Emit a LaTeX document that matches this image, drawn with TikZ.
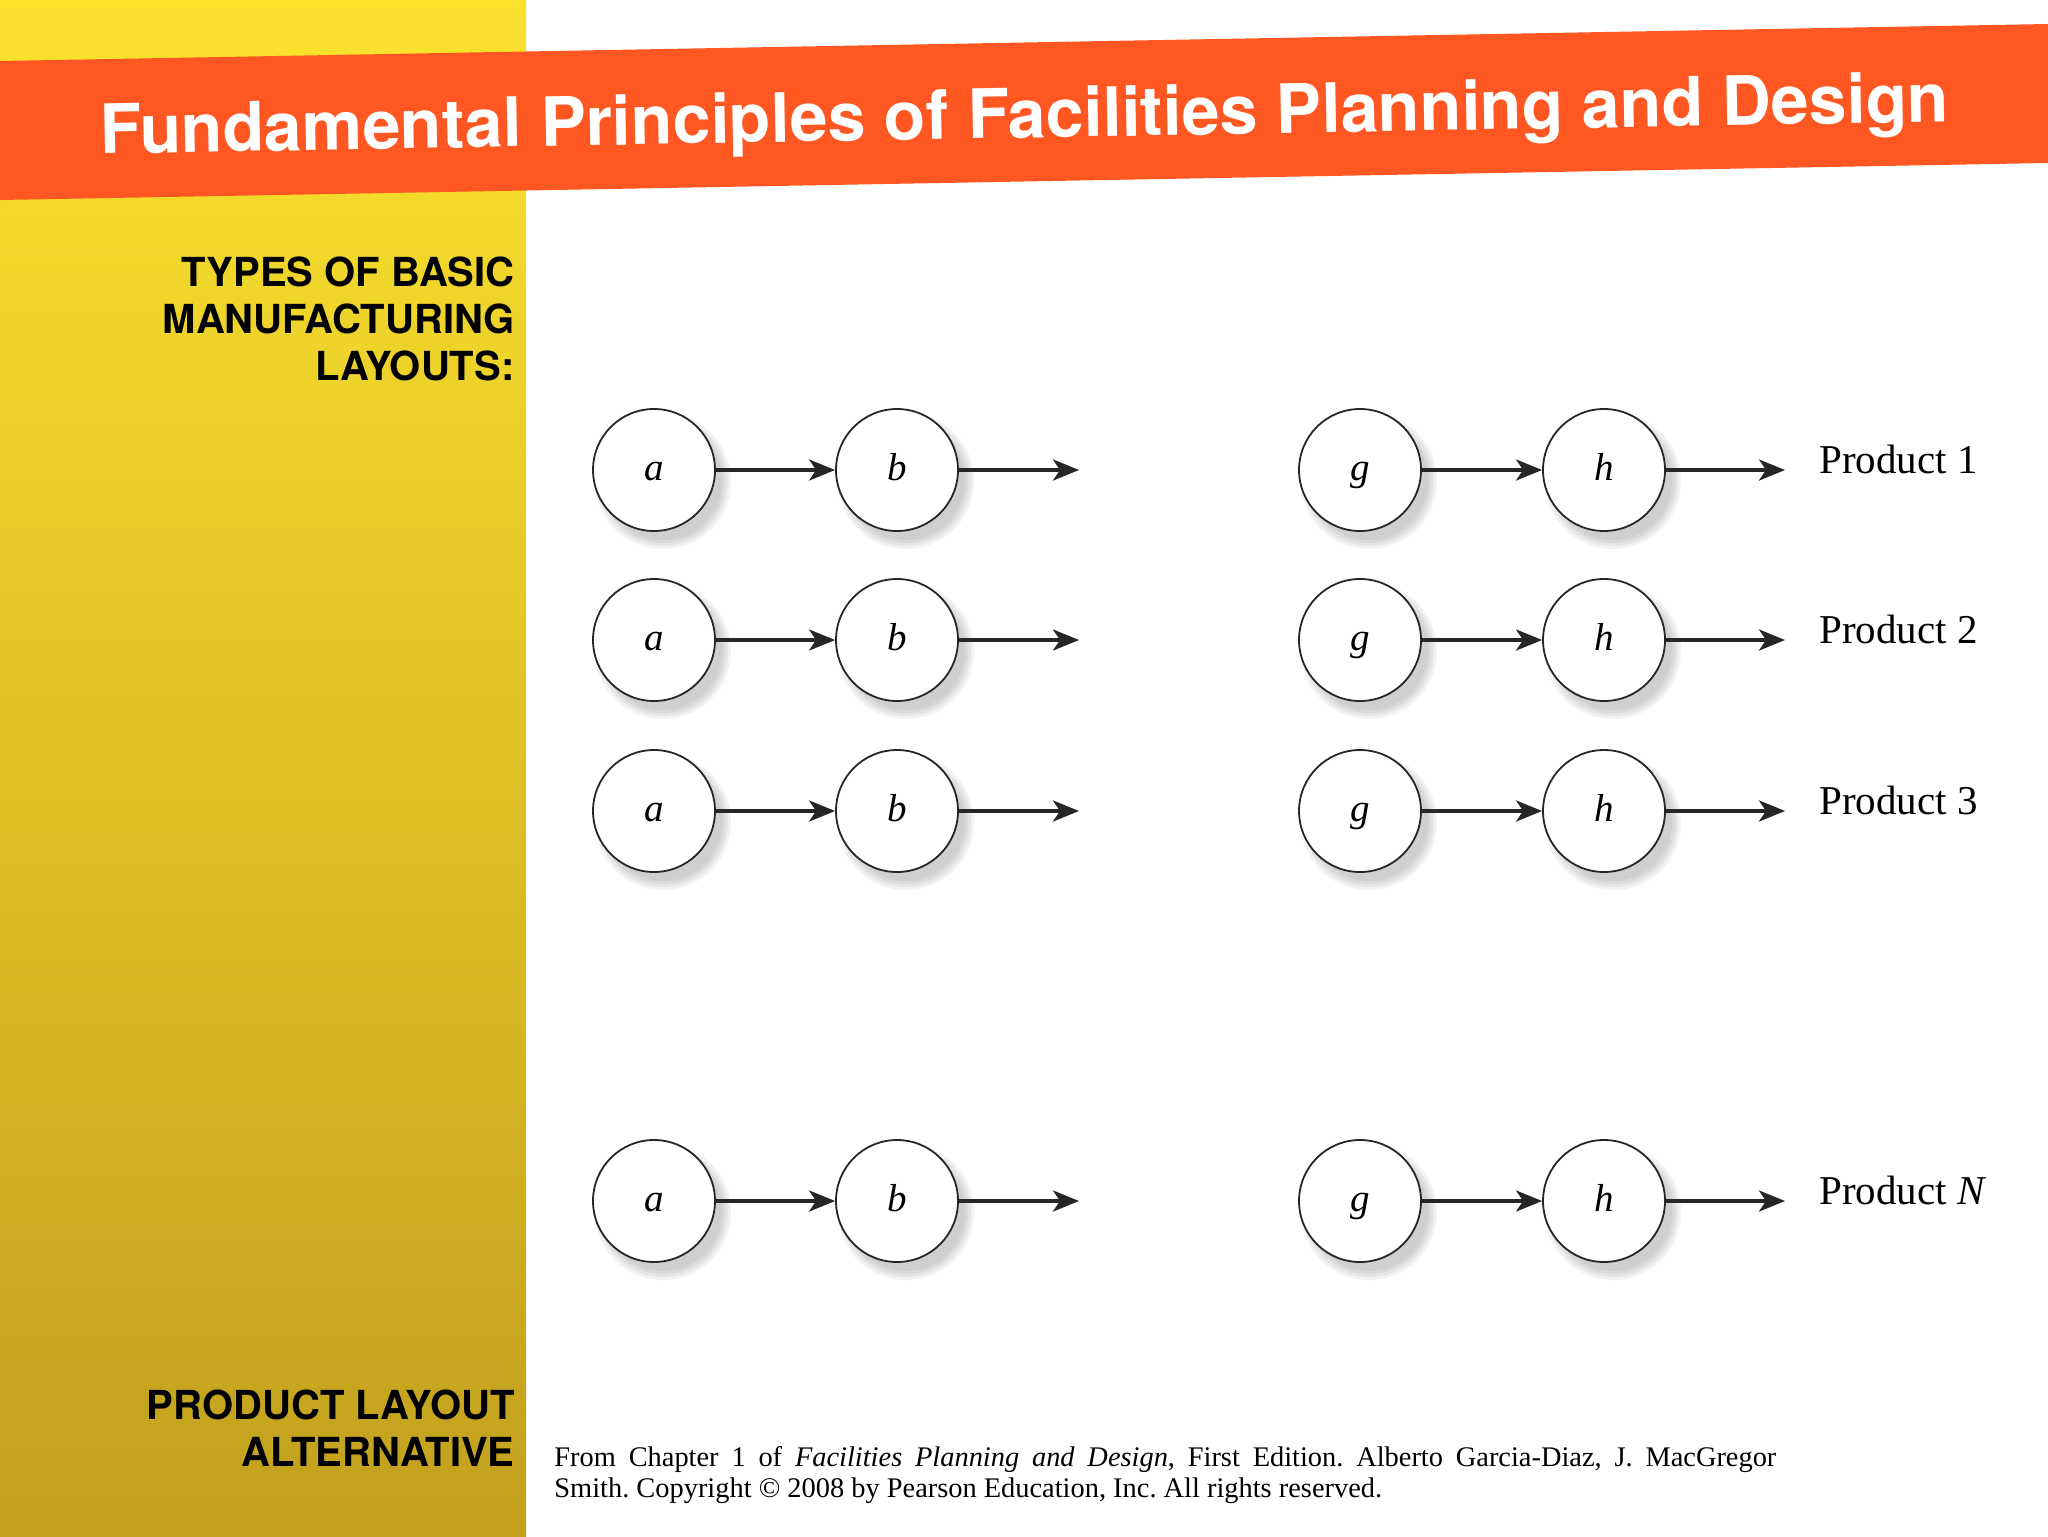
\documentclass[tikz,border=0pt]{standalone}
\usepackage{fontspec}
\setmainfont{Liberation Serif}
\newfontfamily\heros{TeX Gyre Heros}
\usetikzlibrary{arrows.meta}
\definecolor{ytop}{RGB}{250,226,45}
\definecolor{ybot}{RGB}{194,160,30}
\definecolor{band}{RGB}{255,87,34}
\newcommand\stn[4]{%
  \fill[black!5] (#2+9,#3+11) circle[radius=68];
  \fill[black!10] (#2+9,#3+11) circle[radius=65];
  \fill[black!15] (#2+9,#3+11) circle[radius=62];
  \fill[black!19] (#2+9,#3+11) circle[radius=59];
  \node[station] (#1) at (#2,#3) {#4};}
\begin{document}
\frenchspacing
\begin{tikzpicture}[x=0.5pt,y=-0.5pt,
  station/.style={circle,draw=black!85,line width=0.9pt,fill=white,minimum size=61pt,inner sep=0pt,text height=13.5pt,text depth=3pt,font=\fontsize{19.5}{19.5}\selectfont\itshape},
  flow/.style={-{Stealth[length=13pt,width=10.5pt,inset=3.5pt]},line width=1.8pt,draw=black!85},
  prod/.style={anchor=base west,inner sep=0pt,font=\fontsize{20.5}{20.5}\selectfont},
  side/.style={anchor=north east,align=right,inner sep=0pt,font=\heros\bfseries\fontsize{20}{23.5}\selectfont},
]
\useasboundingbox (0,0) rectangle (2048,1536);
\fill[white] (0,0) rectangle (2048,1536);
\shade[top color=ytop,bottom color=ybot] (0,0) rectangle (526,1536);
\fill[band] (0,61) -- (2048,24) -- (2048,163) -- (0,200) -- cycle;
\node[anchor=base west,rotate=1,text=white,inner sep=0pt,font=\heros\bfseries\fontsize{34}{34}\selectfont] (title) at (100,154) {Fundamental Principles of Facilities Planning and Design};
\node[side] (types) at (515,256) {TYPES OF BASIC\\MANUFACTURING\\LAYOUTS:};
\node[side] (prodlay) at (515,1389) {PRODUCT LAYOUT\\ALTERNATIVE};
\foreach \y/\i/\t in {470/1/Product 1,640/2/Product 2,811/3/Product 3,1201/4/Product \textit{N}}{
  \stn{a\i}{654}{\y}{a}
  \stn{b\i}{897}{\y}{b}
  \stn{g\i}{1360}{\y}{g}
  \stn{h\i}{1604}{\y}{h}
  \coordinate (bo\i) at (1079,\y);
  \coordinate (ho\i) at (1785,\y);
  \draw[flow] (a\i) -- (b\i);
  \draw[flow] (b\i) -- (bo\i);
  \draw[flow] (g\i) -- (h\i);
  \draw[flow] (h\i) -- (ho\i);
  \node[prod] (p\i) at (1819,\y+3) {\t};
}
\node[anchor=north west,align=left,inner sep=0pt,font=\fontsize{14.2}{15.5}\selectfont] (credit) at (554,1446)
  {\makebox[611pt][s]{From Chapter 1 of \textit{Facilities Planning and Design}, First Edition. Alberto Garcia-Diaz, J. MacGregor}\\Smith. Copyright © 2008 by Pearson Education, Inc. All rights reserved.};
\end{tikzpicture}
\end{document}
